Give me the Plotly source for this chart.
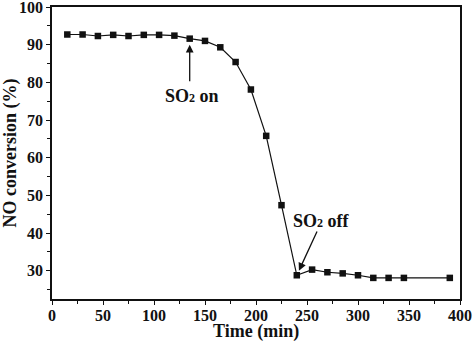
import plotly.graph_objects as go

time_min = [15, 30, 45, 60, 75, 90, 105, 120, 135, 150, 165, 180, 195, 210,
            225, 240, 255, 270, 285, 300, 315, 330, 345, 390]
no_conversion = [92.7, 92.7, 92.3, 92.6, 92.3, 92.6, 92.6, 92.4, 91.6, 91.0,
                 89.3, 85.4, 78.1, 65.8, 47.4, 28.8, 30.3, 29.6, 29.3, 28.8,
                 28.1, 28.1, 28.1, 28.1]

x_ticks = [0, 50, 100, 150, 200, 250, 300, 350, 400]
y_ticks = [30, 40, 50, 60, 70, 80, 90, 100]

FONT = "Liberation Serif"
BLACK = "#111111"

fig = go.Figure()
fig.add_trace(go.Scatter(
    x=time_min, y=no_conversion, mode="lines+markers",
    line=dict(color=BLACK, width=1.2),
    marker=dict(symbol="square", size=6.5, color=BLACK),
    showlegend=False,
))

SO2 = "SO<span style='font-size:12px'>2</span>"

# SO2 on
fig.add_annotation(x=135, y=91.6, ax=135, ay=79.9, xref="x", yref="y",
                   axref="x", ayref="y", text="", showarrow=True,
                   arrowhead=2, arrowsize=1.2, arrowwidth=1.3, arrowcolor=BLACK,
                   standoff=6)
fig.add_annotation(x=137, y=76.4, text="<b>%s on</b>" % SO2, showarrow=False,
                   font=dict(family=FONT, size=18, color=BLACK), yanchor="middle")
# SO2 off
fig.add_annotation(x=240, y=28.8, ax=260.5, ay=40.8, xref="x", yref="y",
                   axref="x", ayref="y", text="", showarrow=True,
                   arrowhead=2, arrowsize=1.2, arrowwidth=1.3, arrowcolor=BLACK,
                   standoff=5)
fig.add_annotation(x=264, y=43.2, text="<b>%s off</b>" % SO2, showarrow=False,
                   font=dict(family=FONT, size=18, color=BLACK), yanchor="middle")

# x-axis title
fig.add_annotation(x=0.5, y=-0.113, xref="paper", yref="paper",
                   text="<b>Time (min)</b>", showarrow=False,
                   font=dict(family=FONT, size=18, color=BLACK),
                   xanchor="center", yanchor="middle")

axis_common = dict(
    showline=True, linecolor=BLACK, linewidth=1.5, mirror=True,
    ticks="outside", ticklen=4, tickwidth=1.2, tickcolor=BLACK,
    showgrid=False, zeroline=False, automargin=False,
    ticklabeloverflow="allow",
    tickfont=dict(family=FONT, size=16, color=BLACK),
)

fig.update_xaxes(range=[0, 400], tickvals=x_ticks,
                 ticktext=["<b>%d</b>" % v for v in x_ticks],
                 ticklabelstandoff=-3,
                 minor=dict(tickvals=[25, 75, 125, 175, 225, 275, 325, 375],
                            ticks="outside", ticklen=3, tickwidth=1.2, tickcolor=BLACK),
                 **axis_common)
fig.update_yaxes(range=[22.5, 100], tickvals=y_ticks,
                 ticktext=["<b>%d</b>" % v for v in y_ticks],
                 minor=dict(tickvals=[25, 35, 45, 55, 65, 75, 85, 95],
                            ticks="outside", ticklen=3, tickwidth=1.2, tickcolor=BLACK),
                 title=dict(text="<b>NO conversion (%)</b>", font=dict(family=FONT, size=18, color=BLACK),
                            standoff=5),
                 **axis_common)

fig.update_layout(
    width=474, height=344,
    margin=dict(l=52, r=14, t=7, b=45),
    plot_bgcolor="white", paper_bgcolor="white",
    font=dict(family=FONT, color=BLACK),
)

fig.write_html("out.html")
